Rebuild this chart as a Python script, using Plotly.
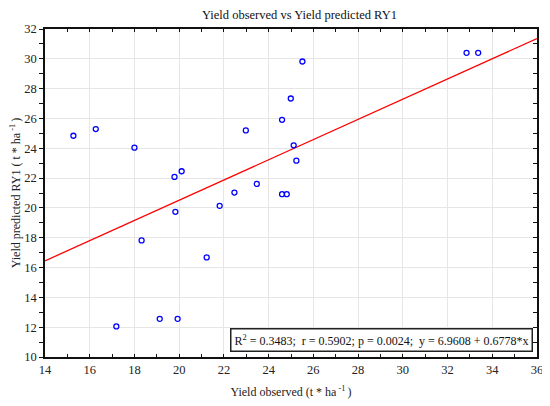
import plotly.graph_objects as go

# observed vs predicted yield (t/ha)
yield_observed = [15.27, 16.27, 18.00, 19.79, 20.11, 22.47, 22.98, 23.47,
                  25.51, 24.99, 24.60, 25.12, 25.24, 24.60, 24.81, 32.85, 33.37,
                  19.83, 21.81, 18.32, 21.23, 17.19, 19.13, 19.93]
yield_predicted = [24.84, 25.29, 24.04, 22.08, 22.46, 21.03, 25.20, 21.61,
                   29.82, 27.34, 25.91, 24.20, 23.17, 20.92, 20.92, 30.40, 30.40,
                   19.74, 20.14, 17.82, 16.68, 12.05, 12.56, 12.56]

# regression from the chart's own box
intercept = 6.9608
slope = 0.6778
fit_x = [14, 36]
fit_y = [intercept + slope * v for v in fit_x]
stats_text = ('R<sup>2</sup> = 0.3483;  r = 0.5902; p = 0.0024;  '
              'y = 6.9608 + 0.6778*x')

serif = '"Liberation Serif", "Times New Roman", serif'
tick_font = dict(family=serif, size=12.5, color='#222222')

fig = go.Figure()
fig.add_trace(go.Scatter(x=fit_x, y=fit_y, mode='lines',
                         line=dict(color='#ff0000', width=1.3),
                         hoverinfo='skip', showlegend=False))
fig.add_trace(go.Scatter(x=yield_observed, y=yield_predicted, mode='markers',
                         marker=dict(symbol='circle-open', size=5, color='#0000ff',
                                     line=dict(width=1.3, color='#0000ff')),
                         showlegend=False))
# invisible trace to bring up the right-hand axis
fig.add_trace(go.Scatter(x=[14], y=[10], yaxis='y2', mode='markers',
                         marker=dict(opacity=0), hoverinfo='skip', showlegend=False))

fig.update_layout(
    width=550, height=406,
    margin=dict(l=37, r=21, t=21, b=57, autoexpand=False),
    paper_bgcolor='white', plot_bgcolor='white',
    font=dict(family=serif, size=12, color='#222222'),
    title=dict(text='Yield observed vs Yield predicted RY1', x=0.53, xanchor='center',
               y=0.995, yanchor='top', font=dict(family=serif, size=12.5, color='#111111')),
    xaxis=dict(range=[14, 36], dtick=2, tick0=14, tickfont=tick_font, automargin=False,
               showgrid=True, gridcolor='#e6e6e6', gridwidth=1, zeroline=False,
               showline=True, linecolor='#111111', linewidth=1.5, mirror='ticks',
               ticks='inside', ticklen=3, tickcolor='#111111',
               minor=dict(dtick=1, ticks='inside', ticklen=3, tickcolor='#111111'),
               title=dict(text='Yield observed (t * ha<sup> -1 </sup>)',
                          font=dict(family=serif, size=12), standoff=12)),
    yaxis=dict(range=[10, 32], dtick=2, tick0=10, tickfont=tick_font, automargin=False,
               showgrid=True, gridcolor='#e6e6e6', gridwidth=1, zeroline=False,
               showline=True, linecolor='#111111', linewidth=1.5, mirror=True,
               ticks='outside', ticklen=4, tickcolor='#111111',
               minor=dict(dtick=1, ticks='outside', ticklen=4, tickcolor='#111111'),
               title=dict(text='Yield predicted RY1 ( t * ha<sup> -1 </sup>)',
                          font=dict(family=serif, size=12), standoff=6)),
    yaxis2=dict(range=[10, 32], dtick=2, tick0=10, overlaying='y', side='right',
                showgrid=False, zeroline=False, showticklabels=False, automargin=False,
                ticks='inside', ticklen=4, tickcolor='#111111',
                minor=dict(dtick=1, ticks='inside', ticklen=4, tickcolor='#111111')),
    annotations=[dict(text=stats_text, xref='paper', yref='paper',
                      x=0.9925, y=0.016, xanchor='right', yanchor='bottom',
                      showarrow=False, align='left',
                      font=dict(family=serif, size=12, color='#111111'),
                      bordercolor='#222222', borderwidth=1.5, borderpad=3,
                      bgcolor='white')],
)

fig.write_html('out.html')
